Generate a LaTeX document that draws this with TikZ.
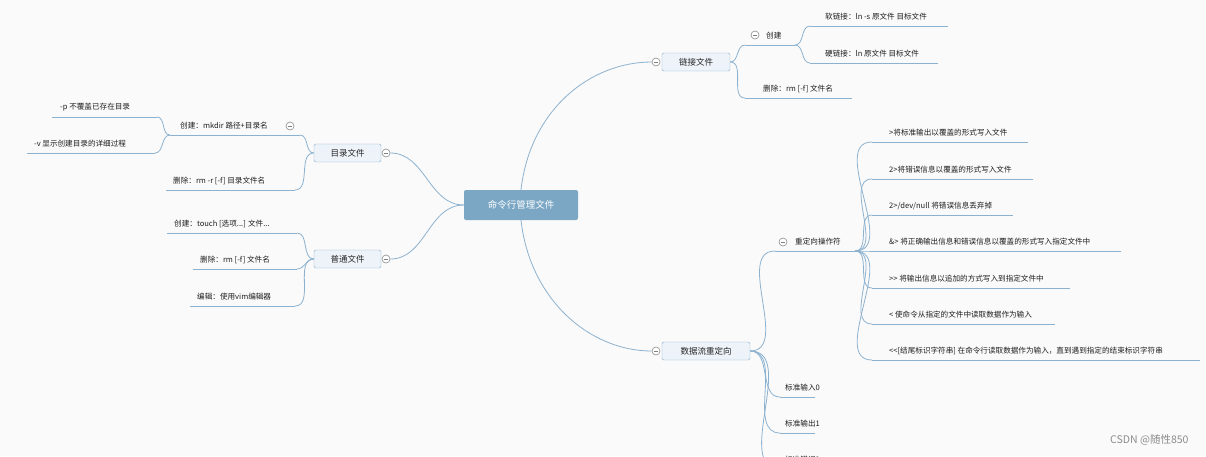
\documentclass[tikz,border=0pt]{standalone}
\usepackage{fontspec}
\setmainfont[Ligatures=NoCommon]{Noto Sans CJK SC}
\definecolor{ln}{HTML}{8DB2CF}
\definecolor{bx}{HTML}{EDF3F8}
\definecolor{ct}{HTML}{7BA7C5}
\definecolor{bg}{HTML}{FAFAFA}
\newcommand\leaf[6]{%
  \coordinate (#1s) at (#2,#4); \coordinate (#1e) at (#3,#4);
  \draw[br] (#1s) -- (#1e);
  \node[lt] (#1t) at (#5,#4-9.5) {#6};}
\begin{document}
\begin{tikzpicture}[x=1pt,y=-1pt,
  br/.style={draw=ln,line width=0.8pt},
  lt/.style={anchor=west,font=\fontsize{7.6}{8}\selectfont,text=black!88,inner sep=0pt},
  box/.style={draw=ln,fill=bx,rounded corners=1.5pt,font=\fontsize{8.5}{10}\selectfont,text=black!85,inner sep=0pt,minimum height=18pt},
  col/.style={circle,draw=black!45,fill=white,minimum size=8pt,inner sep=0pt,line width=0.6pt,path picture={\draw[black!50,line width=0.6pt] ([xshift=-2.3pt]path picture bounding box.center)--([xshift=2.3pt]path picture bounding box.center);}},
  cv/.style={out=0,in=180},
  cvl/.style={out=180,in=0}]
\fill[bg] (0,0) rectangle (1206,456);
\clip (0,0) rectangle (1206,456);
% central
\node[fill=ct,rounded corners=2pt,minimum width=114pt,minimum height=30pt,text=white,font=\fontsize{9.5}{11}\selectfont] (c) at (521,205) {命令行管理文件};
% level 1
\node[box,minimum width=68pt] (lj) at (696,62) {链接文件};
\node[col] (ljc) at (656,62) {};
\node[box,minimum width=67pt] (ml) at (347.5,153) {目录文件};
\node[col] (mlc) at (386,153) {};
\node[box,minimum width=67pt] (pt) at (347.5,259) {普通文件};
\node[col] (ptc) at (386,259) {};
\node[box,minimum width=88pt] (sj) at (706,351) {数据流重定向};
\node[col] (sjc) at (656,351) {};
\draw[br] (c.north) .. controls (530,110) and (590,62) .. (ljc.west);
\draw[br] (c.south) .. controls (530,300) and (590,351) .. (sjc.west);
\draw[br] (c.west) to[cvl] (mlc.east);
\draw[br] (c.west) to[cvl] (ptc.east);
% 链接文件
\leaf{cj}{745}{795}{45}{766}{创建}
\node[col] at (755,35) {};
\draw[br] (lj.east) to[cv] (cjs);
\leaf{rl}{810}{948}{26}{825}{软链接：ln -s 原文件 目标文件}
\leaf{yl}{810}{938}{63}{825}{硬链接：ln 原文件 目标文件}
\draw[br] (cje) to[cv] (rls);
\draw[br] (cje) to[cv] (yls);
\leaf{sc}{745}{852}{98}{763}{删除：rm [-f] 文件名}
\draw[br] (lj.east) to[cv] (scs);
% 目录文件
\leaf{mk}{170}{300}{135}{180}{创建：mkdir 路径+目录名}
\node[col] at (290,126) {};
\draw[br] (ml.west) to[cvl] (mke);
\leaf{mp}{52}{157}{117}{60}{-p 不覆盖已存在目录}
\leaf{mv}{27}{155}{153}{34}{-v 显示创建目录的详细过程}
\draw[br] (mks) to[cvl] (mpe);
\draw[br] (mks) to[cvl] (mve);
\leaf{md}{166}{295}{190}{173}{删除：rm -r [-f] 目录文件名}
\draw[br] (ml.west) to[cvl] (mde);
% 普通文件
\leaf{pa}{167}{297}{233}{174}{创建：touch [选项...] 文件...}
\leaf{pb}{193}{297}{269}{200}{删除：rm [-f] 文件名}
\leaf{pc}{190}{295}{306}{197}{编辑：使用vim编辑器}
\draw[br] (pt.west) to[cvl] (pae);
\draw[br] (pt.west) to[cvl] (pbe);
\draw[br] (pt.west) to[cvl] (pce);
% 数据流重定向
\leaf{op}{775}{855}{251}{795}{重定向操作符}
\node[col] at (783,242) {};
\draw[br] (sj.east) to[cv] (ops);
\leaf{r1}{872}{1028}{142}{889}{>将标准输出以覆盖的形式写入文件}
\leaf{r2}{872}{1033}{179}{889}{2>将错误信息以覆盖的形式写入文件}
\leaf{r3}{872}{1013}{215}{889}{2>/dev/null 将错误信息丢弃掉}
\leaf{r4}{872}{1121}{251}{889}{\&> 将正确输出信息和错误信息以覆盖的形式写入指定文件中}
\leaf{r5}{872}{1070}{288}{889}{{>}{>} 将输出信息以追加的方式写入到指定文件中}
\leaf{r6}{872}{1055}{324}{889}{< 使命令从指定的文件中读取数据作为输入}
\leaf{r7}{872}{1200}{360}{889}{{<}{<}[结尾标识字符串] 在命令行读取数据作为输入，直到遇到指定的结束标识字符串}
\foreach \i in {1,...,7} {\draw[br] (ope) to[cv] (r\i s);}
\leaf{s0}{780}{815}{397}{785}{标准输入0}
\leaf{s1}{780}{815}{433}{785}{标准输出1}
\leaf{s2}{780}{815}{469}{785}{标准错误2}
\draw[br] (sj.east) to[cv] (s0s);
\draw[br] (sj.east) to[cv] (s1s);
\draw[br] (sj.east) to[cv] (s2s);
\node[anchor=east,text=black!45,font=\fontsize{10.5}{12}\selectfont] (wm) at (1192,440) {CSDN @随性850};
\end{tikzpicture}
\end{document}
